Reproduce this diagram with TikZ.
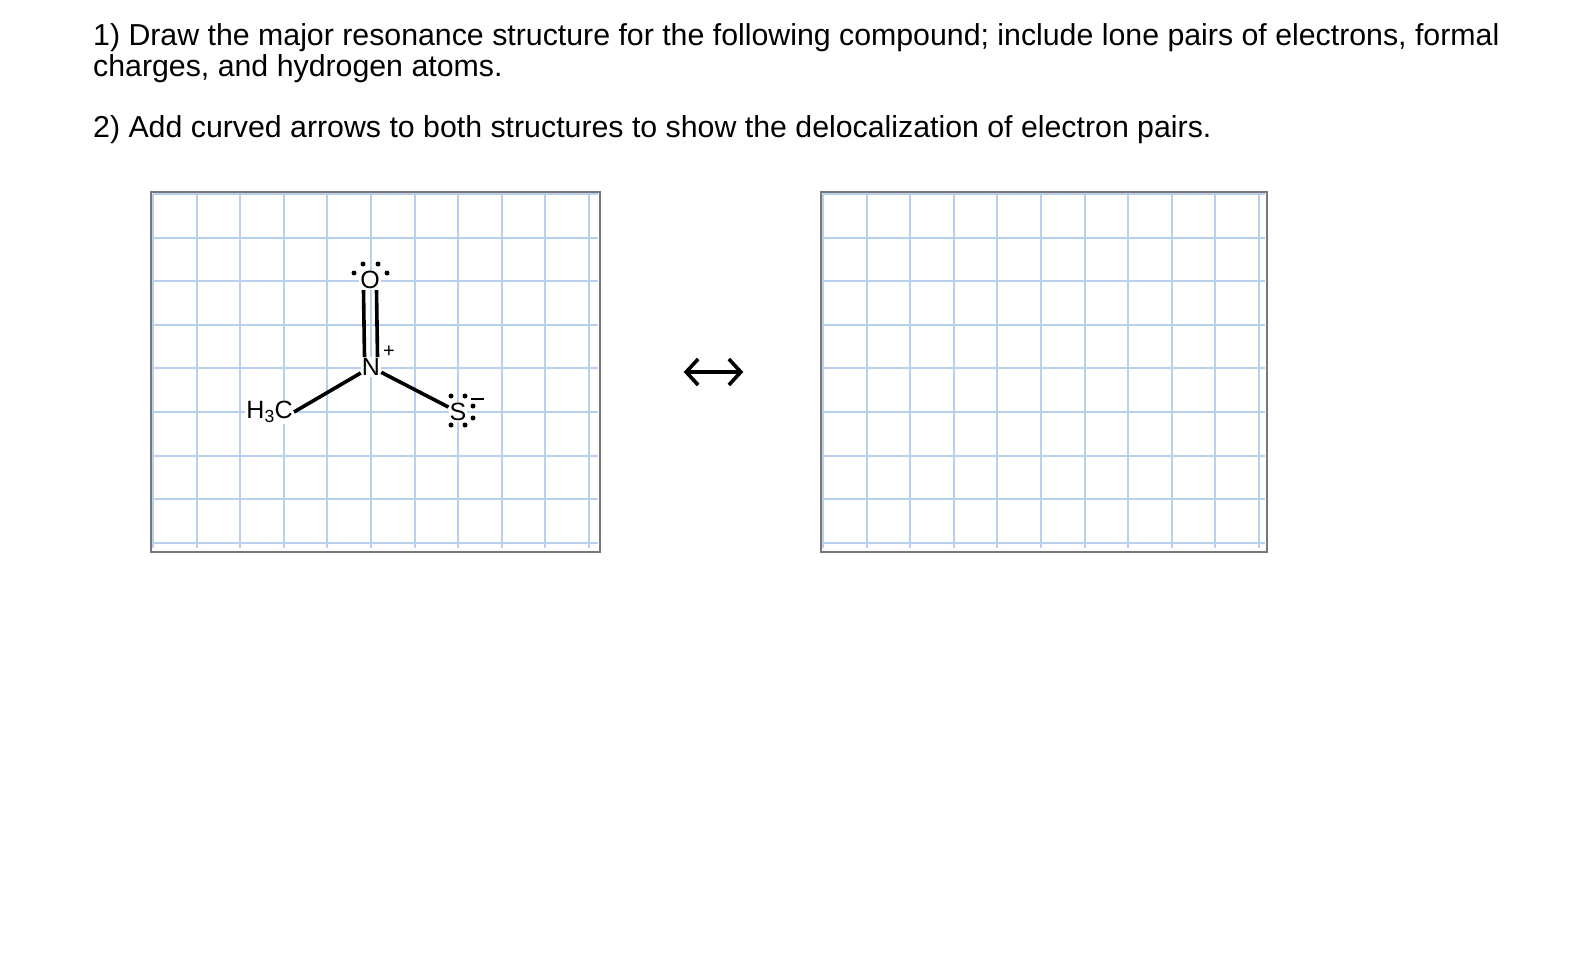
\documentclass[tikz,border=0pt]{standalone}
\usepackage{fontspec}
\setmainfont{Liberation Sans}
\usetikzlibrary{arrows.meta}
\definecolor{gridblue}{RGB}{184,208,238}
\definecolor{boxgray}{RGB}{120,120,120}
\begin{document}
\begin{tikzpicture}[x=1pt,y=-1pt,
  qtext/.style={anchor=base west,inner sep=0pt,font=\fontsize{30.3}{32}\selectfont},
  atom/.style={inner sep=1pt,fill=white,font=\fontsize{25}{26}\selectfont},
  bond/.style={line width=3.6pt},
  ep/.style={circle,fill=black,inner sep=0pt,minimum size=5pt},
  gridln/.style={gridblue,line width=2pt},
  frame/.style={boxgray,line width=2pt}]
\useasboundingbox[fill=white] (0,0) rectangle (1592,974);
\node[qtext] (t1) at (93,46) {1) Draw the major resonance structure for the following compound; include lone pairs of electrons, formal};
\node[qtext] (t2) at (93,77) {charges, and hydrogen atoms.};
\node[qtext] (t3) at (93,137) {2) Add curved arrows to both structures to show the delocalization of electron pairs.};
% left grid
\foreach \i in {0,...,10} \draw[gridln] (153+43.6*\i,194) -- (153+43.6*\i,548);
\foreach \j in {0,...,8} \draw[gridln] (153,194+43.6*\j) -- (598,194+43.6*\j);
\draw[frame] (151,192) rectangle (600,552);
% right grid
\foreach \i in {0,...,10} \draw[gridln] (823+43.6*\i,194) -- (823+43.6*\i,548);
\foreach \j in {0,...,8} \draw[gridln] (823,194+43.6*\j) -- (1265,194+43.6*\j);
\draw[frame] (821,192) rectangle (1267,552);
% molecule
\node[atom] (O) at (370,280) {O};
\node[atom] (N) at (371,367) {N};
\node[atom,anchor=east] (C) at (294,412) {H\textsubscript{3}C};
\node[atom] (S) at (458,412) {S};
\draw[bond] ([xshift=-6.5pt]O.south) -- ([xshift=-6.5pt]N.north);
\draw[bond] ([xshift=6.5pt]O.south) -- ([xshift=6.5pt]N.north);
\draw[bond] (N) -- (C.east);
\draw[bond] (N) -- (S);
\node[inner sep=0pt,font=\fontsize{20}{20}\selectfont] (plus) at (389,352) {+};
\draw[line width=2pt] (471,399) -- (484,399) coordinate (minusend);
% lone pairs
\foreach \p in {(354,273),(363,264),(378,264),(387,273),(451,396),(465,396),(451,425),(465,425),(473,406),(473,418)}
  \node[ep] at \p {};
% resonance arrow
\node[inner sep=0pt] (la) at (683,372) {};
\node[inner sep=0pt] (ra) at (744,372) {};
\draw[line width=3.6pt,{Straight Barb[length=12pt,width=26pt,line width=3.6pt]}-{Straight Barb[length=12pt,width=26pt,line width=3.6pt]}] (la) -- (ra);
\end{tikzpicture}
\end{document}
